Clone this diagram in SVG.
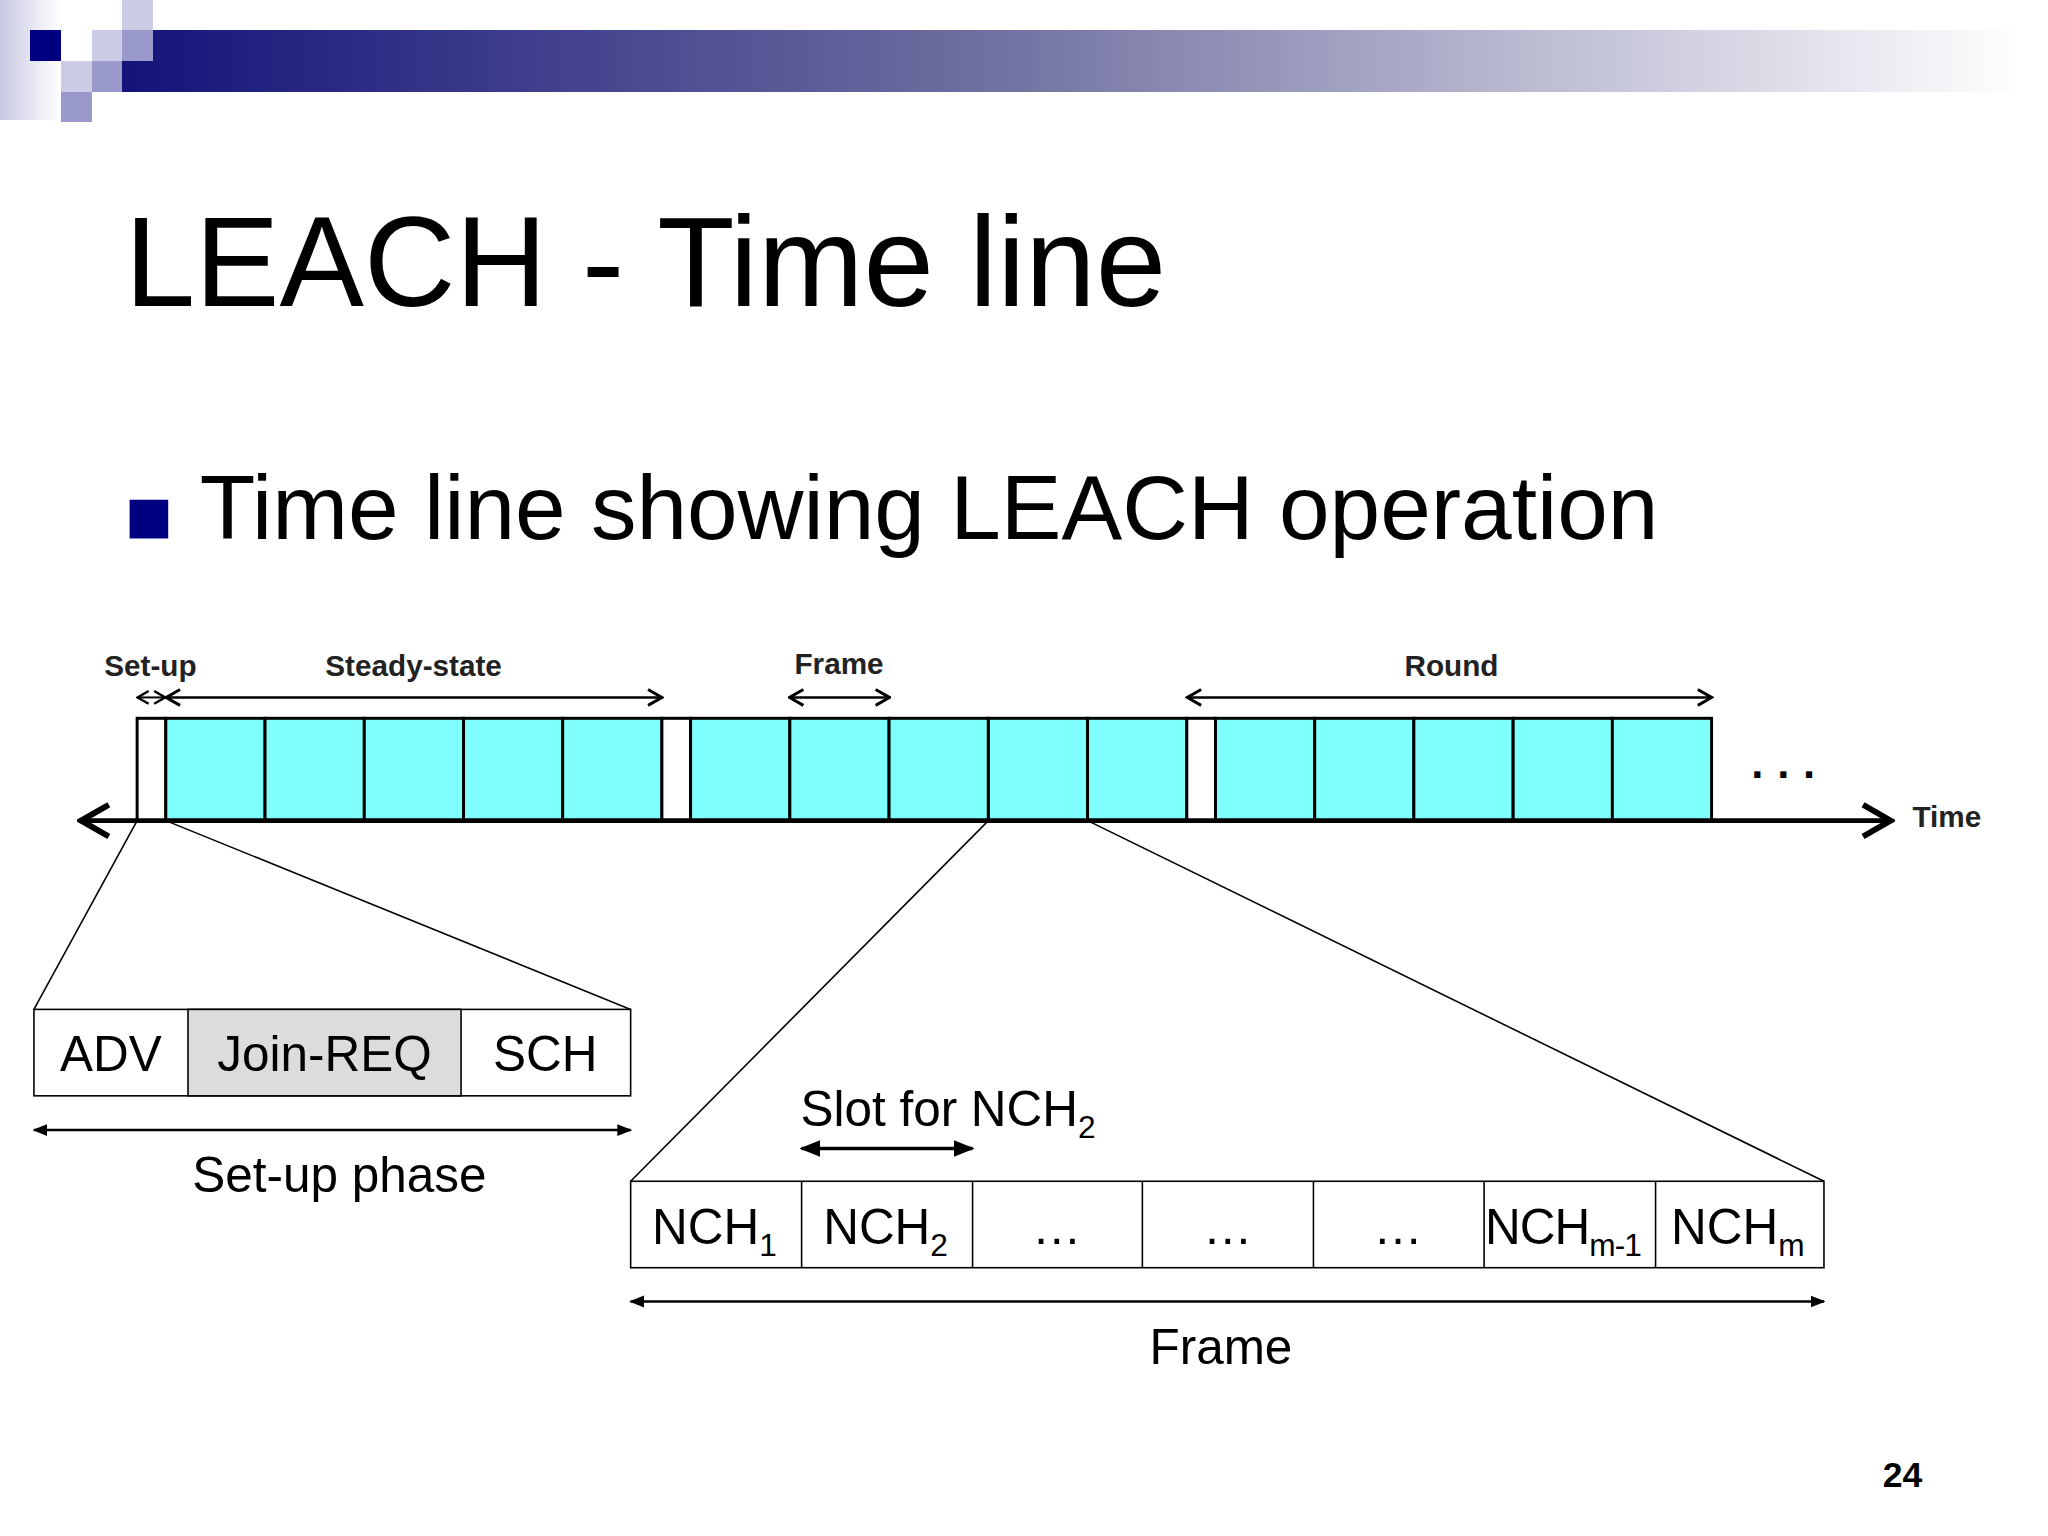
<svg xmlns="http://www.w3.org/2000/svg" width="2048" height="1536" viewBox="0 0 2048 1536">
<style>
.t{font-family:"Liberation Sans",Arial,sans-serif;fill:#000}
.lb{font-size:30px;font-weight:bold;fill:#222}
.bx{font-size:50px}
.cy{fill:#80ffff;stroke:#000;stroke-width:3}
.wh{fill:#fff;stroke:#000;stroke-width:3}
.thin{stroke:#000;stroke-width:1.6;fill:none}
</style>
<defs>
<linearGradient id="hg" x1="0" x2="1"><stop offset="0" stop-color="#13137a"/><stop offset="0.45" stop-color="#6e6ea0"/><stop offset="1" stop-color="#fff"/></linearGradient>
<linearGradient id="lg" x1="0" x2="1"><stop offset="0" stop-color="#c8c8e2"/><stop offset="1" stop-color="#fff"/></linearGradient>
<marker id="sa" viewBox="0 0 10 10" refX="9" refY="5" markerWidth="8" markerHeight="8" orient="auto-start-reverse"><path d="M2 1L9 5L2 9" fill="none" stroke="#000" stroke-width="1.5"/></marker>
<marker id="fa" viewBox="0 0 10 10" refX="9" refY="5" markerWidth="6" markerHeight="6" orient="auto-start-reverse"><path d="M0 1L10 5L0 9z" fill="#000"/></marker>
</defs>
<rect width="2048" height="1536" fill="#fff"/>
<g id="header">
<rect x="0" y="0" width="60" height="120" fill="url(#lg)"/>
<rect x="122" y="30" width="1900" height="62" fill="url(#hg)"/>
<rect x="30" y="30" width="31" height="31" fill="#000080"/>
<rect x="61" y="61" width="31" height="31" fill="#ccccE6"/>
<rect x="61" y="92" width="31" height="30" fill="#9999cc"/>
<rect x="92" y="30" width="30" height="31" fill="#ccccE6"/>
<rect x="92" y="61" width="30" height="31" fill="#9999cc"/>
<rect x="122" y="0" width="31" height="30" fill="#ccccE6"/>
<rect x="122" y="30" width="31" height="31" fill="#9999cc"/>
</g>
<g transform="scale(0.9894,0.9935)">
<text class="t" x="126" y="308" font-size="128">LEACH - Time line</text>
<rect x="131" y="503" width="39" height="39" fill="#000080"/>
<text class="t" x="202" y="543" font-size="92">Time line showing LEACH operation</text>
<g id="timeline">
<rect class="wh" x="138.6" y="723" width="29" height="103"/>
<rect class="cy" x="167.6" y="723" width="100.3" height="103"/>
<rect class="cy" x="267.9" y="723" width="100.3" height="103"/>
<rect class="cy" x="368.2" y="723" width="100.3" height="103"/>
<rect class="cy" x="468.5" y="723" width="100.3" height="103"/>
<rect class="cy" x="568.7" y="723" width="100.3" height="103"/>
<rect class="wh" x="669" y="723" width="29" height="103"/>
<rect class="cy" x="698" y="723" width="100.3" height="103"/>
<rect class="cy" x="798.3" y="723" width="100.3" height="103"/>
<rect class="cy" x="898.6" y="723" width="100.3" height="103"/>
<rect class="cy" x="999" y="723" width="100.3" height="103"/>
<rect class="cy" x="1099.2" y="723" width="100.3" height="103"/>
<rect class="wh" x="1199.5" y="723" width="29" height="103"/>
<rect class="cy" x="1228.5" y="723" width="100.3" height="103"/>
<rect class="cy" x="1328.8" y="723" width="100.3" height="103"/>
<rect class="cy" x="1429" y="723" width="100.3" height="103"/>
<rect class="cy" x="1529.4" y="723" width="100.3" height="103"/>
<rect class="cy" x="1629.6" y="723" width="100.3" height="103"/>
<text class="t" x="1770" y="783" font-size="44" font-weight="bold" letter-spacing="14">...</text>
<text class="t lb" x="1933" y="832">Time</text>
<text class="t lb" x="152" y="680" text-anchor="middle">Set-up</text>
<text class="t lb" x="418" y="680" text-anchor="middle">Steady-state</text>
<text class="t lb" x="848" y="678" text-anchor="middle">Frame</text>
<text class="t lb" x="1467" y="680" text-anchor="middle">Round</text>
</g>
<g id="connectors">
<line x1="82" y1="826" x2="1911" y2="826" stroke="#000" stroke-width="5" marker-start="url(#sa)" marker-end="url(#sa)"/>
<g stroke="#000" stroke-width="2.5" marker-start="url(#sa)" marker-end="url(#sa)">
<line x1="139" y1="702" x2="167" y2="702" stroke-width="2"/>
<line x1="168" y1="702" x2="669" y2="702"/>
<line x1="798" y1="702" x2="899" y2="702"/>
<line x1="1200" y1="702" x2="1730" y2="702"/>
</g>
<line class="thin" x1="138.6" y1="826" x2="34.3" y2="1016"/>
<line class="thin" x1="167.6" y1="826" x2="637.4" y2="1016"/>
<line class="thin" x1="999" y1="826" x2="637.4" y2="1189"/>
<line class="thin" x1="1099.2" y1="826" x2="1843.5" y2="1189"/>
<g stroke="#000" stroke-width="2.5" marker-start="url(#fa)" marker-end="url(#fa)">
<line x1="34.3" y1="1137.5" x2="637.4" y2="1137.5"/>
<line x1="810.2" y1="1156" x2="983" y2="1156" stroke-width="3.5"/>
<line x1="637.4" y1="1310" x2="1843.5" y2="1310"/>
</g>
</g>
<g id="setup">
<rect x="34.3" y="1016" width="603.1" height="87" fill="#fff" stroke="#000" stroke-width="1.6"/>
<rect x="190" y="1016" width="276" height="87" fill="#dcdcdc" stroke="#000" stroke-width="1.6"/>
<text class="t bx" x="112" y="1078" text-anchor="middle">ADV</text>
<text class="t bx" x="328" y="1078" text-anchor="middle">Join-REQ</text>
<text class="t bx" x="551" y="1078" text-anchor="middle">SCH</text>
<text class="t bx" x="343" y="1200" text-anchor="middle">Set-up phase</text>
</g>
<g id="frame">
<rect x="637.4" y="1189" width="1206.1" height="87" fill="#fff" stroke="#000" stroke-width="1.6"/>
<g stroke="#000" stroke-width="1.6">
<line x1="810.2" y1="1189" x2="810.2" y2="1276"/><line x1="983" y1="1189" x2="983" y2="1276"/>
<line x1="1154.6" y1="1189" x2="1154.6" y2="1276"/><line x1="1327.5" y1="1189" x2="1327.5" y2="1276"/>
<line x1="1500" y1="1189" x2="1500" y2="1276"/><line x1="1673.3" y1="1189" x2="1673.3" y2="1276"/>
</g>
<text class="t bx" x="659" y="1252">NCH<tspan font-size="32" dy="12">1</tspan></text>
<text class="t bx" x="832" y="1252">NCH<tspan font-size="32" dy="12">2</tspan></text>
<text class="t bx" x="1068" y="1252" text-anchor="middle">…</text>
<text class="t bx" x="1241" y="1252" text-anchor="middle">…</text>
<text class="t bx" x="1413" y="1252" text-anchor="middle">…</text>
<text class="t bx" x="1501" y="1252" letter-spacing="-1">NCH<tspan font-size="32" dy="12">m-1</tspan></text>
<text class="t bx" x="1689" y="1252">NCH<tspan font-size="32" dy="12">m</tspan></text>
<text class="t bx" x="809" y="1133">Slot for NCH<tspan font-size="32" dy="12">2</tspan></text>
<text class="t bx" x="1234" y="1373" text-anchor="middle">Frame</text>
</g>
<text class="t" x="1903" y="1497" font-size="36" font-weight="bold" fill="#111">24</text>
</g>
</svg>
